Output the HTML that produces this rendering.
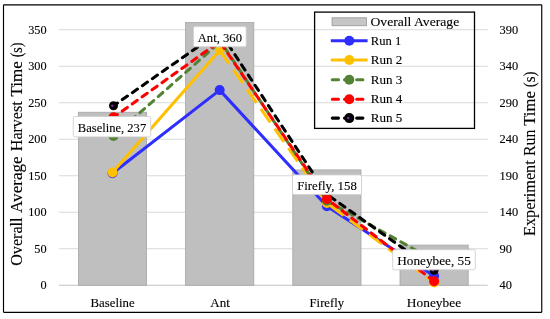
<!DOCTYPE html>
<html><head><meta charset="utf-8"><title>Chart</title>
<style>html,body{margin:0;padding:0;background:#fff}svg{display:block}</style></head>
<body>
<svg width="550" height="319" viewBox="0 0 550 319" font-family='"Liberation Serif", serif' fill="#000">
<style>text{stroke:#000;stroke-width:0.12px;paint-order:stroke}</style>
<rect x="0" y="0" width="550" height="319" fill="#fff"/>
<rect x="3.5" y="4.85" width="538.25" height="307.5" fill="#fff" stroke="#000" stroke-width="1.15" rx="0.5"/>
<line x1="58.9" x2="487.7" y1="285.25" y2="285.25" stroke="#c2c2c2" stroke-width="1"/>
<line x1="58.9" x2="487.7" y1="248.75" y2="248.75" stroke="#d9d9d9" stroke-width="1"/>
<line x1="58.9" x2="487.7" y1="212.25" y2="212.25" stroke="#d9d9d9" stroke-width="1"/>
<line x1="58.9" x2="487.7" y1="175.75" y2="175.75" stroke="#d9d9d9" stroke-width="1"/>
<line x1="58.9" x2="487.7" y1="139.25" y2="139.25" stroke="#d9d9d9" stroke-width="1"/>
<line x1="58.9" x2="487.7" y1="102.75" y2="102.75" stroke="#d9d9d9" stroke-width="1"/>
<line x1="58.9" x2="487.7" y1="66.25" y2="66.25" stroke="#d9d9d9" stroke-width="1"/>
<line x1="58.9" x2="487.7" y1="29.75" y2="29.75" stroke="#d9d9d9" stroke-width="1"/>
<rect x="78.40" y="112.24" width="68.2" height="173.01" fill="#bfbfbf" stroke="#a6a6a6" stroke-width="0.8"/>
<rect x="185.60" y="22.45" width="68.2" height="262.80" fill="#bfbfbf" stroke="#a6a6a6" stroke-width="0.8"/>
<rect x="292.80" y="169.91" width="68.2" height="115.34" fill="#bfbfbf" stroke="#a6a6a6" stroke-width="0.8"/>
<rect x="400.00" y="245.10" width="68.2" height="40.15" fill="#bfbfbf" stroke="#a6a6a6" stroke-width="0.8"/>
<polyline points="112.50,173.20 219.70,90.10 326.90,206.30 434.10,276.00" fill="none" stroke="#2e2eff" stroke-width="3.05" stroke-linejoin="round"/>
<circle cx="112.50" cy="173.2" r="5.0" fill="#2e2eff"/>
<circle cx="219.70" cy="90.1" r="5.0" fill="#2e2eff"/>
<circle cx="326.90" cy="206.3" r="5.0" fill="#2e2eff"/>
<circle cx="434.10" cy="276.0" r="5.0" fill="#2e2eff"/>
<polyline points="112.50,172.5 219.70,50.3" fill="none" stroke="#ffc000" stroke-width="3.05" stroke-linejoin="round"/>
<polyline points="219.70,50.3 326.90,203.0 434.10,282.5" fill="none" stroke="#ffc000" stroke-width="3.05" stroke-dasharray="16.3 7.6" stroke-linejoin="round"/>
<circle cx="112.50" cy="172.5" r="5.0" fill="#ffc000"/>
<circle cx="219.70" cy="50.3" r="5.0" fill="#ffc000"/>
<circle cx="326.90" cy="203.0" r="5.0" fill="#ffc000"/>
<circle cx="434.10" cy="282.5" r="5.0" fill="#ffc000"/>
<polyline points="113.50,136.0 220.60,41.6" fill="none" stroke="#548235" stroke-width="3.05" stroke-dasharray="6.2 6.0" stroke-dashoffset="1.4" stroke-linecap="round"/>
<polyline points="220.60,41.6 326.90,200.8 434.10,260.3" fill="none" stroke="#548235" stroke-width="3.05" stroke-dasharray="6.2 6.0" stroke-dashoffset="4.6" stroke-linecap="round" stroke-linejoin="round"/>
<circle cx="113.50" cy="136.0" r="5.0" fill="#548235"/>
<circle cx="220.60" cy="41.6" r="5.0" fill="#548235"/>
<circle cx="326.90" cy="200.8" r="5.0" fill="#548235"/>
<circle cx="434.10" cy="260.3" r="5.0" fill="#548235"/>
<polyline points="113.50,105.80 219.70,31.60 326.90,194.30 434.10,270.30" fill="none" stroke="#000000" stroke-width="3.05" stroke-linejoin="round" stroke-dasharray="6.2 6.0" stroke-dashoffset="1.4" stroke-linecap="round"/>
<circle cx="113.50" cy="105.8" r="4.5" fill="#000"/><circle cx="112.30" cy="105.8" r="1.2" fill="#7030a0"/>
<circle cx="219.70" cy="31.6" r="4.5" fill="#000"/><circle cx="218.50" cy="31.6" r="1.2" fill="#7030a0"/>
<circle cx="326.90" cy="194.3" r="4.5" fill="#000"/><circle cx="325.70" cy="194.3" r="1.2" fill="#7030a0"/>
<circle cx="434.10" cy="270.3" r="4.5" fill="#000"/><circle cx="432.90" cy="270.3" r="1.2" fill="#7030a0"/>
<polyline points="113.50,117.30 219.70,41.50 326.90,199.00 434.10,281.30" fill="none" stroke="#ff0000" stroke-width="3.05" stroke-linejoin="round" stroke-dasharray="6.2 6.0" stroke-dashoffset="1.4" stroke-linecap="round"/>
<circle cx="113.50" cy="117.3" r="5.0" fill="#ff0000"/>
<circle cx="219.70" cy="41.5" r="5.0" fill="#ff0000"/>
<circle cx="326.90" cy="199.0" r="5.0" fill="#ff0000"/>
<circle cx="434.10" cy="281.3" r="5.0" fill="#ff0000"/>
<rect x="73.3" y="116.5" width="77.4" height="20.4" rx="1.5" fill="#fff" stroke="#d0d0d0" stroke-width="0.9"/>
<text x="77.80" y="131.50" font-size="13.3" textLength="68.4" lengthAdjust="spacingAndGlyphs">Baseline, 237</text>
<rect x="193.5" y="26.6" width="52.7" height="20.2" rx="1.5" fill="#fff" stroke="#d0d0d0" stroke-width="0.9"/>
<text x="197.75" y="41.60" font-size="13.3" textLength="44.2" lengthAdjust="spacingAndGlyphs">Ant, 360</text>
<rect x="292.5" y="174.9" width="69.0" height="19.7" rx="1.5" fill="#fff" stroke="#d0d0d0" stroke-width="0.9"/>
<text x="297.20" y="189.90" font-size="13.3" textLength="59.6" lengthAdjust="spacingAndGlyphs">Firefly, 158</text>
<rect x="392.7" y="249.7" width="82.6" height="20.1" rx="1.5" fill="#fff" stroke="#d0d0d0" stroke-width="0.9"/>
<text x="397.20" y="264.70" font-size="13.3" textLength="73.6" lengthAdjust="spacingAndGlyphs">Honeybee, 55</text>
<text x="40.45" y="289.45" font-size="13.3" textLength="6.15" lengthAdjust="spacingAndGlyphs">0</text>
<text x="34.30" y="252.95" font-size="13.3" textLength="12.30" lengthAdjust="spacingAndGlyphs">50</text>
<text x="28.15" y="216.45" font-size="13.3" textLength="18.45" lengthAdjust="spacingAndGlyphs">100</text>
<text x="28.15" y="179.95" font-size="13.3" textLength="18.45" lengthAdjust="spacingAndGlyphs">150</text>
<text x="28.15" y="143.45" font-size="13.3" textLength="18.45" lengthAdjust="spacingAndGlyphs">200</text>
<text x="28.15" y="106.95" font-size="13.3" textLength="18.45" lengthAdjust="spacingAndGlyphs">250</text>
<text x="28.15" y="70.45" font-size="13.3" textLength="18.45" lengthAdjust="spacingAndGlyphs">300</text>
<text x="28.15" y="33.95" font-size="13.3" textLength="18.45" lengthAdjust="spacingAndGlyphs">350</text>
<text x="499.6" y="289.45" font-size="13.3" textLength="12.40" lengthAdjust="spacingAndGlyphs">40</text>
<text x="499.6" y="252.95" font-size="13.3" textLength="12.40" lengthAdjust="spacingAndGlyphs">90</text>
<text x="499.6" y="216.45" font-size="13.3" textLength="18.60" lengthAdjust="spacingAndGlyphs">140</text>
<text x="499.6" y="179.95" font-size="13.3" textLength="18.60" lengthAdjust="spacingAndGlyphs">190</text>
<text x="499.6" y="143.45" font-size="13.3" textLength="18.60" lengthAdjust="spacingAndGlyphs">240</text>
<text x="499.6" y="106.95" font-size="13.3" textLength="18.60" lengthAdjust="spacingAndGlyphs">290</text>
<text x="499.6" y="70.45" font-size="13.3" textLength="18.60" lengthAdjust="spacingAndGlyphs">340</text>
<text x="499.6" y="33.95" font-size="13.3" textLength="18.60" lengthAdjust="spacingAndGlyphs">390</text>
<text x="90.50" y="307.2" font-size="13.3" textLength="44.2" lengthAdjust="spacingAndGlyphs">Baseline</text>
<text x="210.30" y="307.2" font-size="13.3" textLength="19.6" lengthAdjust="spacingAndGlyphs">Ant</text>
<text x="309.60" y="307.2" font-size="13.3" textLength="34.4" lengthAdjust="spacingAndGlyphs">Firefly</text>
<text x="406.85" y="307.2" font-size="13.3" textLength="54.3" lengthAdjust="spacingAndGlyphs">Honeybee</text>
<text transform="translate(21.6,265.79999999999995) rotate(-90)" font-size="16.0" textLength="48.4" lengthAdjust="spacingAndGlyphs">Overall</text>
<text transform="translate(21.6,213.0) rotate(-90)" font-size="16.0" textLength="56.7" lengthAdjust="spacingAndGlyphs">Average</text>
<text transform="translate(21.6,151.20000000000002) rotate(-90)" font-size="16.0" textLength="49.9" lengthAdjust="spacingAndGlyphs">Harvest</text>
<text transform="translate(21.6,96.4) rotate(-90)" font-size="16.0" textLength="35.2" lengthAdjust="spacingAndGlyphs">Time</text>
<text transform="translate(21.6,57.3) rotate(-90)" font-size="16.0" textLength="14.6" lengthAdjust="spacingAndGlyphs">(s)</text>
<text transform="translate(534.8,235.9) rotate(-90)" font-size="16.0" textLength="75.6" lengthAdjust="spacingAndGlyphs">Experiment</text>
<text transform="translate(534.8,156.0) rotate(-90)" font-size="16.0" textLength="26.4" lengthAdjust="spacingAndGlyphs">Run</text>
<text transform="translate(534.8,125.80000000000001) rotate(-90)" font-size="16.0" textLength="34.8" lengthAdjust="spacingAndGlyphs">Time</text>
<text transform="translate(534.8,87.30000000000001) rotate(-90)" font-size="16.0" textLength="15.8" lengthAdjust="spacingAndGlyphs">(s)</text>
<rect x="314.6" y="12.1" width="159.9" height="116.3" fill="none" stroke="#000" stroke-width="1.3"/>
<rect x="332.1" y="17.8" width="34.4" height="7.9" fill="#c6c6c6" stroke="#9c9c9c" stroke-width="0.9"/>
<text x="370.5" y="25.5" font-size="13.3" textLength="88.7" lengthAdjust="spacingAndGlyphs">Overall Average</text>
<line x1="330.8" x2="367.6" y1="40.8" y2="40.8" stroke="#2e2eff" stroke-width="3.05"/>
<circle cx="349.3" cy="40.8" r="5.0" fill="#2e2eff"/>
<text x="370.8" y="44.60" font-size="13.3" textLength="30.4" lengthAdjust="spacingAndGlyphs">Run 1</text>
<line x1="330.8" x2="367.6" y1="60.0" y2="60.0" stroke="#ffc000" stroke-width="3.05"/>
<circle cx="349.3" cy="60.0" r="5.0" fill="#ffc000"/>
<text x="370.8" y="63.80" font-size="13.3" textLength="31.5" lengthAdjust="spacingAndGlyphs">Run 2</text>
<line x1="330.8" x2="366.4" y1="79.8" y2="79.8" stroke="#548235" stroke-width="3.05" stroke-dasharray="6.2 6.0" stroke-dashoffset="-1.5" stroke-linecap="round"/>
<circle cx="349.3" cy="79.8" r="5.0" fill="#548235"/>
<text x="370.8" y="83.60" font-size="13.3" textLength="31.5" lengthAdjust="spacingAndGlyphs">Run 3</text>
<line x1="330.8" x2="366.4" y1="99.2" y2="99.2" stroke="#ff0000" stroke-width="3.05" stroke-dasharray="6.2 6.0" stroke-dashoffset="-1.5" stroke-linecap="round"/>
<circle cx="349.3" cy="99.2" r="5.0" fill="#ff0000"/>
<text x="370.8" y="103.00" font-size="13.3" textLength="31.5" lengthAdjust="spacingAndGlyphs">Run 4</text>
<line x1="330.8" x2="366.4" y1="118.1" y2="118.1" stroke="#000" stroke-width="3.05" stroke-dasharray="6.2 6.0" stroke-dashoffset="-1.5" stroke-linecap="round"/>
<circle cx="349.3" cy="118.1" r="5.0" fill="#000"/>
<circle cx="348.2" cy="118.1" r="1.3" fill="#7030a0"/>
<text x="370.8" y="121.90" font-size="13.3" textLength="31.5" lengthAdjust="spacingAndGlyphs">Run 5</text>
</svg>
</body></html>
